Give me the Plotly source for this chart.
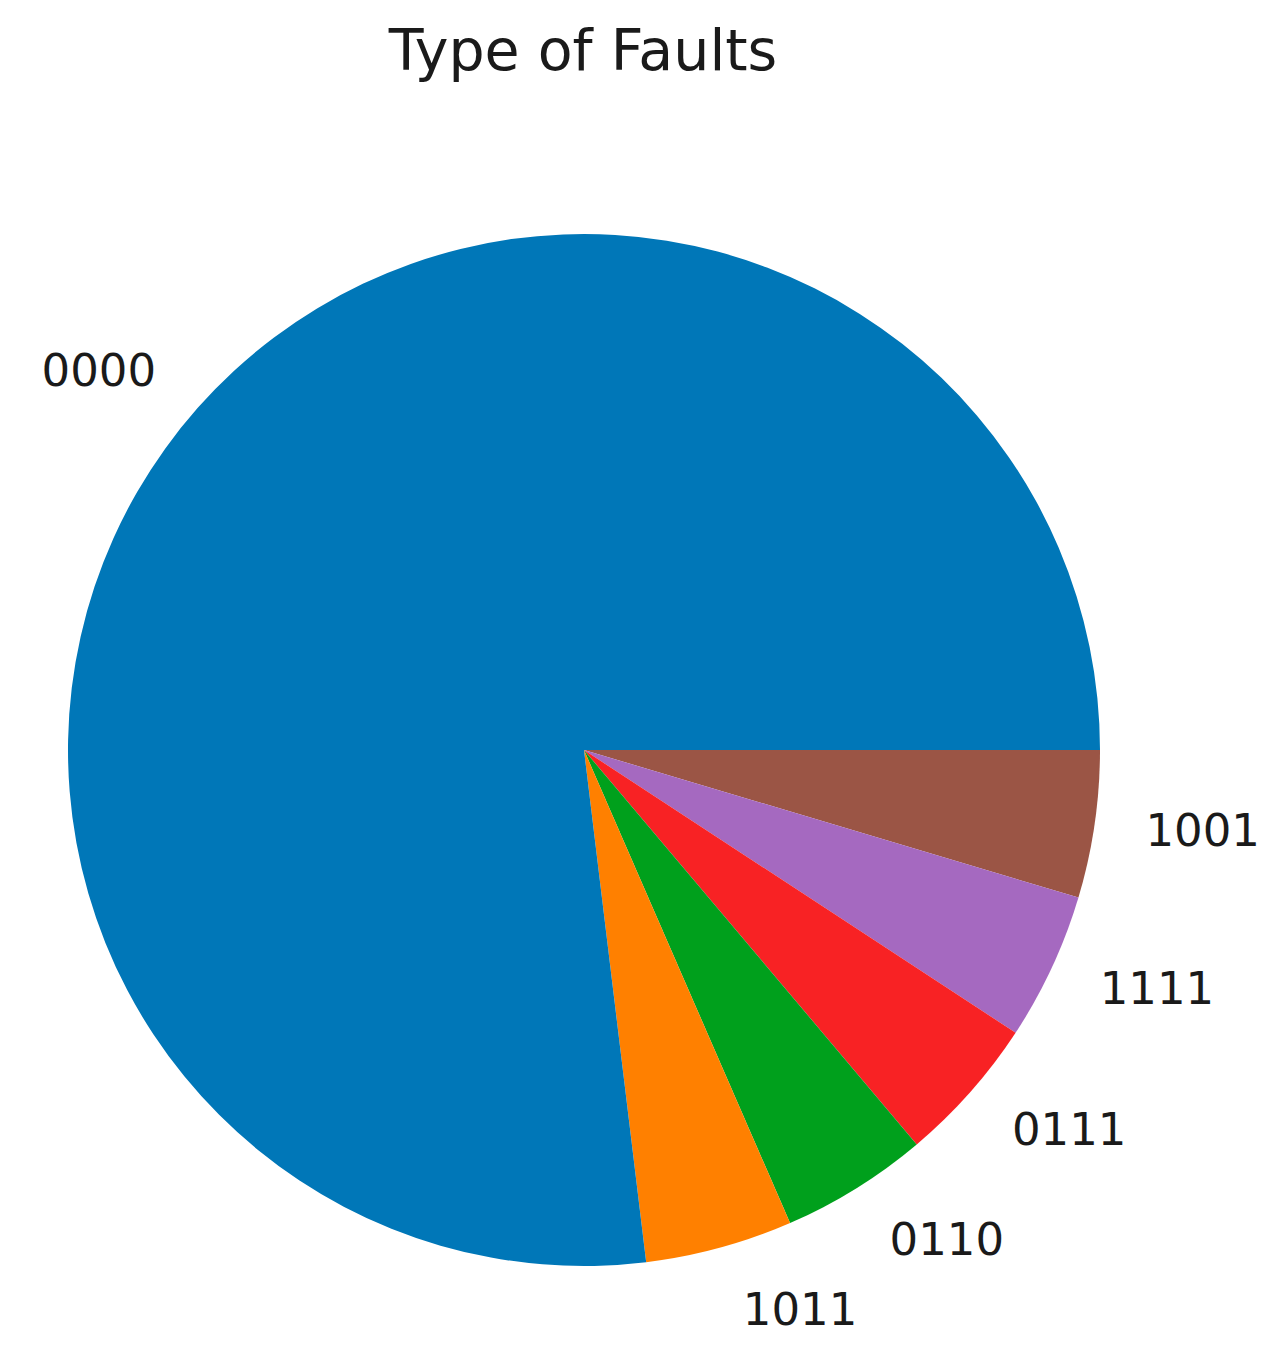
import plotly.graph_objects as go

# Répartition des types de défauts
fault_types = ['0000', '1011', '0110', '0111', '1111', '1001']
counts = [1000, 60, 60, 60, 60, 60]
colors = ['#0077B8', '#FF8000', '#00A01C', '#F82224', '#A569C0', '#9B5545']

W, H = 1277, 1357

# Centre et rayon du camembert (px, repère figure)
cx, cy, r = 576, 742, 516
r_lbl = 554  # camembert fantôme pour écarter les étiquettes (~1.1 r)


def dom(rad):
    return dict(x=[(cx - rad) / W, (cx + rad) / W],
                y=[1 - (cy + rad) / H, 1 - (cy - rad) / H])


fig = go.Figure()

# Camembert transparent qui ne sert qu'à placer les étiquettes
fig.add_trace(go.Pie(
    labels=fault_types[::-1],
    values=counts[::-1],
    sort=False,
    direction='clockwise',
    rotation=90,
    textinfo='label',
    textposition='outside',
    textfont=dict(family='DejaVu Sans', size=45, color='#1a1a1a'),
    marker=dict(colors=['rgba(0,0,0,0)'] * len(counts), line=dict(width=0)),
    showlegend=False,
    hoverinfo='skip',
    domain=dom(r_lbl),
))

# Ordre inversé + sens horaire depuis 3 h = sens anti-horaire façon matplotlib
fig.add_trace(go.Pie(
    labels=fault_types[::-1],
    values=counts[::-1],
    sort=False,
    direction='clockwise',
    rotation=90,
    textinfo='none',
    marker=dict(colors=colors[::-1], line=dict(width=0)),
    showlegend=False,
    hoverinfo='label+value+percent',
    domain=dom(r),
))

fig.update_layout(
    title=dict(
        text='Type of Faults',
        x=575 / W, xanchor='center', xref='paper',
        y=1 - 42 / H, yanchor='middle', yref='paper',
        font=dict(family='DejaVu Sans', size=57, color='#1a1a1a'),
    ),
    width=W,
    height=H,
    margin=dict(l=0, r=0, t=0, b=0),
    paper_bgcolor='white',
    plot_bgcolor='white',
)

fig.write_html("out.html")
